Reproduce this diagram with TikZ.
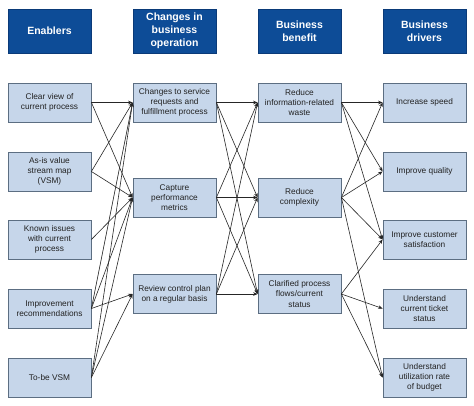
\documentclass[tikz,border=0pt]{standalone}
\usepackage{fontspec}
\setmainfont{Liberation Sans}
\usetikzlibrary{arrows.meta}
\definecolor{hdr}{HTML}{0D4C97}
\definecolor{hdrline}{HTML}{0A3A78}
\definecolor{boxfill}{HTML}{C6D6EA}
\definecolor{boxline}{HTML}{5C6E82}
\definecolor{txt}{HTML}{222222}
\begin{document}
\begin{tikzpicture}[x=1pt,y=-1pt,
  hdrbox/.style={draw=hdrline, fill=hdr, text=white, font=\fontsize{10.5}{13}\selectfont\bfseries, align=center, minimum width=83pt, minimum height=44pt, inner sep=0pt, line width=0.8pt},
  bodybox/.style={draw=boxline, fill=boxfill, text=txt, font=\fontsize{8.3}{10.2}\selectfont, align=center, minimum width=83pt, minimum height=39pt, inner sep=0pt, line width=0.8pt},
  conn/.style={-{Stealth[length=4.5pt,width=3.6pt]}, line width=0.6pt, draw=black!85}]
\useasboundingbox (0,0) rectangle (474,405);
\fill[white] (0,0) rectangle (474,405);
% headers
\node[hdrbox] (h1) at (49.5,31) {Enablers};
\node[hdrbox] (h2) at (174.5,31) {Changes in\\business\\operation};
\node[hdrbox] (h3) at (299.5,31) {Business\\benefit};
\node[hdrbox] (h4) at (424.5,31) {Business\\drivers};
% enablers
\node[bodybox] (e1) at (49.5,102.5) {Clear view of\\current process};
\node[bodybox] (e2) at (49.5,171.5) {As-is value\\stream map\\(VSM)};
\node[bodybox] (e3) at (49.5,239.5) {Known issues\\with current\\process};
\node[bodybox] (e4) at (49.5,308.5) {Improvement\\recommendations};
\node[bodybox] (e5) at (49.5,377.5) {To-be VSM};
% changes
\node[bodybox] (c1) at (174.5,102.5) {Changes to service\\requests and\\fulfillment process};
\node[bodybox] (c2) at (174.5,197.5) {Capture\\performance\\metrics};
\node[bodybox] (c3) at (174.5,294) {Review control plan\\on a regular basis};
% benefits
\node[bodybox] (b1) at (299.5,102.5) {Reduce\\information-related\\waste};
\node[bodybox] (b2) at (299.5,197.5) {Reduce\\complexity};
\node[bodybox] (b3) at (299.5,294) {Clarified process\\flows/current\\status};
% drivers
\node[bodybox] (d1) at (424.5,102.5) {Increase speed};
\node[bodybox] (d2) at (424.5,171.5) {Improve quality};
\node[bodybox] (d3) at (424.5,239.5) {Improve customer\\satisfaction};
\node[bodybox] (d4) at (424.5,308.5) {Understand\\current ticket\\status};
\node[bodybox] (d5) at (424.5,377.5) {Understand\\utilization rate\\of budget};
% enablers -> changes
\foreach \a/\b in {e1/c1,e1/c2,e2/c1,e2/c2,e3/c2,e4/c1,e4/c2,e4/c3,e5/c1,e5/c2,e5/c3}
  \draw[conn] (\a.east) -- (\b.west);
% changes -> benefits
\foreach \a in {c1,c2,c3}
  \foreach \b in {b1,b2,b3}
    \draw[conn] (\a.east) -- (\b.west);
% benefits -> drivers
\foreach \a/\b in {b1/d1,b1/d2,b1/d3,b2/d1,b2/d2,b2/d3,b2/d5,b3/d3,b3/d4,b3/d5}
  \draw[conn] (\a.east) -- (\b.west);
\end{tikzpicture}
\end{document}
